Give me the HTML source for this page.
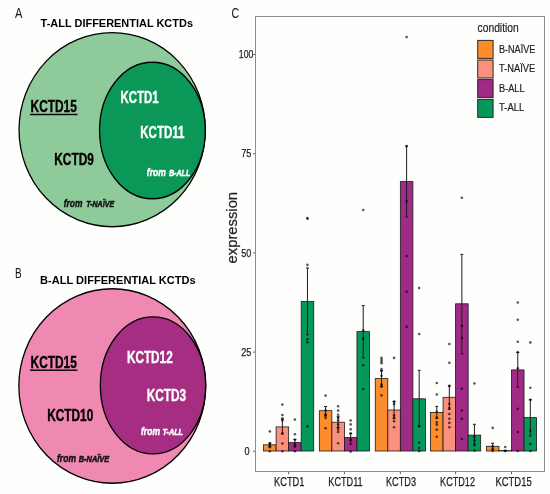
<!DOCTYPE html>
<html lang="en">
<head>
<meta charset="utf-8">
<title>KCTD differential expression figure</title>
<style>
html,body{margin:0;padding:0;background:#fefefd;}
body{width:550px;height:494px;overflow:hidden;}
svg{display:block;font-family:"Liberation Sans", Arial, sans-serif;}
</style>
</head>
<body>
<svg width="550" height="494" viewBox="0 0 550 494">
<rect x="0" y="0" width="550" height="494" fill="#fefefd"/>
<text x="15" y="17.6" font-size="14.0" font-weight="normal" font-style="normal" fill="#111" text-anchor="start" textLength="7.4" lengthAdjust="spacingAndGlyphs">A</text>
<text x="40.6" y="27" font-size="10.5" font-weight="bold" font-style="normal" fill="#000" text-anchor="start" textLength="152.4" lengthAdjust="spacingAndGlyphs">T-ALL DIFFERENTIAL KCTDs</text>
<ellipse cx="112.2" cy="129.7" rx="93.15" ry="97.05" fill="#8eca9a" stroke="#000" stroke-width="1.3"/>
<ellipse cx="152.4" cy="130.5" rx="52.85" ry="68.25" fill="#0a9757" stroke="#000" stroke-width="1.3"/>
<text x="30.6" y="112.2" font-size="16.3" font-weight="bold" font-style="normal" fill="#000" text-anchor="start" textLength="46.2" lengthAdjust="spacingAndGlyphs" stroke="#000" stroke-width="0.4">KCTD15</text>
<rect x="30" y="113.8" width="47.5" height="1.4" fill="#000"/>
<text x="54.3" y="165.1" font-size="16.3" font-weight="bold" font-style="normal" fill="#000" text-anchor="start" textLength="39.5" lengthAdjust="spacingAndGlyphs" stroke="#000" stroke-width="0.4">KCTD9</text>
<text x="120.6" y="102.9" font-size="16.3" font-weight="bold" font-style="normal" fill="#fff" text-anchor="start" textLength="38.0" lengthAdjust="spacingAndGlyphs" stroke="#fff" stroke-width="0.4">KCTD1</text>
<text x="140.3" y="137.6" font-size="16.3" font-weight="bold" font-style="normal" fill="#fff" text-anchor="start" textLength="44.2" lengthAdjust="spacingAndGlyphs" stroke="#fff" stroke-width="0.4">KCTD11</text>
<text x="146.8" y="175.7" font-size="10.2" font-weight="bold" font-style="italic" fill="#fff" text-anchor="start" textLength="19.2" lengthAdjust="spacingAndGlyphs" stroke="#fff" stroke-width="0.4">from</text>
<text x="168.9" y="175.7" font-size="9.4" font-weight="bold" font-style="italic" fill="#fff" text-anchor="start" textLength="21.4" lengthAdjust="spacingAndGlyphs" stroke="#fff" stroke-width="0.5">B-ALL</text>
<text x="63.7" y="207.4" font-size="10.2" font-weight="bold" font-style="italic" fill="#111" text-anchor="start" textLength="18.7" lengthAdjust="spacingAndGlyphs" stroke="#111" stroke-width="0.4">from</text>
<text x="86.2" y="207.4" font-size="9.4" font-weight="bold" font-style="italic" fill="#111" text-anchor="start" textLength="28.0" lengthAdjust="spacingAndGlyphs" stroke="#111" stroke-width="0.5">T-NAÏVE</text>
<text x="15.1" y="278" font-size="13.8" font-weight="normal" font-style="normal" fill="#111" text-anchor="start" textLength="6.7" lengthAdjust="spacingAndGlyphs">B</text>
<text x="40.1" y="284.1" font-size="10.5" font-weight="bold" font-style="normal" fill="#000" text-anchor="start" textLength="155.6" lengthAdjust="spacingAndGlyphs">B-ALL DIFFERENTIAL KCTDs</text>
<ellipse cx="112.3" cy="386" rx="93.45" ry="97.25" fill="#f089b2" stroke="#000" stroke-width="1.3"/>
<ellipse cx="153.0" cy="385.4" rx="52.65" ry="68.45" fill="#a52d82" stroke="#000" stroke-width="1.3"/>
<text x="30.6" y="368.3" font-size="16.3" font-weight="bold" font-style="normal" fill="#000" text-anchor="start" textLength="46.2" lengthAdjust="spacingAndGlyphs" stroke="#000" stroke-width="0.4">KCTD15</text>
<rect x="30" y="369.5" width="47.5" height="1.4" fill="#000"/>
<text x="47.3" y="420.6" font-size="16.3" font-weight="bold" font-style="normal" fill="#000" text-anchor="start" textLength="45.9" lengthAdjust="spacingAndGlyphs" stroke="#000" stroke-width="0.4">KCTD10</text>
<text x="126.9" y="362.5" font-size="16.3" font-weight="bold" font-style="normal" fill="#fff" text-anchor="start" textLength="45.8" lengthAdjust="spacingAndGlyphs" stroke="#fff" stroke-width="0.4">KCTD12</text>
<text x="146.8" y="400.6" font-size="16.3" font-weight="bold" font-style="normal" fill="#fff" text-anchor="start" textLength="39.4" lengthAdjust="spacingAndGlyphs" stroke="#fff" stroke-width="0.4">KCTD3</text>
<text x="141.0" y="434.7" font-size="10.2" font-weight="bold" font-style="italic" fill="#fff" text-anchor="start" textLength="19.0" lengthAdjust="spacingAndGlyphs" stroke="#fff" stroke-width="0.4">from</text>
<text x="162.4" y="434.7" font-size="9.4" font-weight="bold" font-style="italic" fill="#fff" text-anchor="start" textLength="20.7" lengthAdjust="spacingAndGlyphs" stroke="#fff" stroke-width="0.5">T-ALL</text>
<text x="57.0" y="461.8" font-size="10.2" font-weight="bold" font-style="italic" fill="#111" text-anchor="start" textLength="19.0" lengthAdjust="spacingAndGlyphs" stroke="#111" stroke-width="0.4">from</text>
<text x="78.7" y="461.8" font-size="9.4" font-weight="bold" font-style="italic" fill="#111" text-anchor="start" textLength="30.6" lengthAdjust="spacingAndGlyphs" stroke="#111" stroke-width="0.5">B-NAÏVE</text>
<text x="231.5" y="17.9" font-size="14.2" font-weight="normal" font-style="normal" fill="#111" text-anchor="start" textLength="7.7" lengthAdjust="spacingAndGlyphs">C</text>
<line x1="253.1" x2="255.5" y1="451.3" y2="451.3" stroke="#333" stroke-width="0.8"/>
<text x="244.55" y="454.9" font-size="11.7" font-weight="normal" font-style="normal" fill="#222" text-anchor="start" textLength="5.1" lengthAdjust="spacingAndGlyphs" stroke="#222" stroke-width="0.25">0</text>
<line x1="253.1" x2="255.5" y1="352.1" y2="352.1" stroke="#333" stroke-width="0.8"/>
<text x="241.2" y="355.7" font-size="11.7" font-weight="normal" font-style="normal" fill="#222" text-anchor="start" textLength="10.2" lengthAdjust="spacingAndGlyphs" stroke="#222" stroke-width="0.25">25</text>
<line x1="253.1" x2="255.5" y1="252.9" y2="252.9" stroke="#333" stroke-width="0.8"/>
<text x="241.2" y="256.5" font-size="11.7" font-weight="normal" font-style="normal" fill="#222" text-anchor="start" textLength="10.2" lengthAdjust="spacingAndGlyphs" stroke="#222" stroke-width="0.25">50</text>
<line x1="253.1" x2="255.5" y1="153.8" y2="153.8" stroke="#333" stroke-width="0.8"/>
<text x="241.2" y="157.4" font-size="11.7" font-weight="normal" font-style="normal" fill="#222" text-anchor="start" textLength="10.2" lengthAdjust="spacingAndGlyphs" stroke="#222" stroke-width="0.25">75</text>
<line x1="253.1" x2="255.5" y1="54.6" y2="54.6" stroke="#333" stroke-width="0.8"/>
<text x="238.8" y="58.2" font-size="11.7" font-weight="normal" font-style="normal" fill="#222" text-anchor="start" textLength="14.6" lengthAdjust="spacingAndGlyphs" stroke="#222" stroke-width="0.25">100</text>
<line x1="288.65" x2="288.65" y1="471.5" y2="474.2" stroke="#333" stroke-width="0.8"/>
<text x="274.0" y="486.4" font-size="12.0" font-weight="normal" font-style="normal" fill="#222" text-anchor="start" textLength="30.5" lengthAdjust="spacingAndGlyphs" stroke="#222" stroke-width="0.25">KCTD1</text>
<line x1="344.4" x2="344.4" y1="471.5" y2="474.2" stroke="#333" stroke-width="0.8"/>
<text x="328.3" y="486.4" font-size="12.0" font-weight="normal" font-style="normal" fill="#222" text-anchor="start" textLength="34.3" lengthAdjust="spacingAndGlyphs" stroke="#222" stroke-width="0.25">KCTD11</text>
<line x1="400.35" x2="400.35" y1="471.5" y2="474.2" stroke="#333" stroke-width="0.8"/>
<text x="385.9" y="486.4" font-size="12.0" font-weight="normal" font-style="normal" fill="#222" text-anchor="start" textLength="30.1" lengthAdjust="spacingAndGlyphs" stroke="#222" stroke-width="0.25">KCTD3</text>
<line x1="455.6" x2="455.6" y1="471.5" y2="474.2" stroke="#333" stroke-width="0.8"/>
<text x="440.1" y="486.4" font-size="12.0" font-weight="normal" font-style="normal" fill="#222" text-anchor="start" textLength="34.9" lengthAdjust="spacingAndGlyphs" stroke="#222" stroke-width="0.25">KCTD12</text>
<line x1="511.5" x2="511.5" y1="471.5" y2="474.2" stroke="#333" stroke-width="0.8"/>
<text x="495.4" y="486.4" font-size="12.0" font-weight="normal" font-style="normal" fill="#222" text-anchor="start" textLength="36.3" lengthAdjust="spacingAndGlyphs" stroke="#222" stroke-width="0.25">KCTD15</text>
<text transform="translate(236.6,263.4) rotate(-90)" x="0" y="0" font-size="14.5" fill="#222" stroke="#222" stroke-width="0.25" textLength="71.5" lengthAdjust="spacingAndGlyphs">expression</text>
<rect x="263.57" y="444.8" width="12.54" height="6.20" fill="#fd8d2c" stroke="#1a1a1a" stroke-width="0.8"/>
<rect x="276.11" y="426.9" width="12.54" height="24.10" fill="#fb907c" stroke="#1a1a1a" stroke-width="0.8"/>
<rect x="288.65" y="442.6" width="12.54" height="8.40" fill="#a02b86" stroke="#1a1a1a" stroke-width="0.8"/>
<rect x="301.19" y="301.5" width="12.54" height="149.50" fill="#06985b" stroke="#1a1a1a" stroke-width="0.8"/>
<path d="M268.34 442.9H271.34M269.84 442.9V446.7M268.34 446.7H271.34" stroke="#1c1c1c" stroke-width="1" fill="none"/>
<circle cx="269.84" cy="431.4" r="1.3" fill="#000" fill-opacity="0.66"/>
<circle cx="269.84" cy="443.5" r="1.3" fill="#000" fill-opacity="0.66"/>
<circle cx="269.84" cy="445.4" r="1.3" fill="#000" fill-opacity="0.66"/>
<circle cx="269.84" cy="447.3" r="1.3" fill="#000" fill-opacity="0.66"/>
<circle cx="269.84" cy="451.2" r="1.3" fill="#000" fill-opacity="0.66"/>
<path d="M280.88 419.3H283.88M282.38 419.3V434.0M280.88 434.0H283.88" stroke="#1c1c1c" stroke-width="1" fill="none"/>
<circle cx="282.38" cy="404.6" r="1.3" fill="#000" fill-opacity="0.66"/>
<circle cx="282.38" cy="415.0" r="1.3" fill="#000" fill-opacity="0.66"/>
<circle cx="282.38" cy="418.4" r="1.3" fill="#000" fill-opacity="0.66"/>
<circle cx="282.38" cy="420.5" r="1.3" fill="#000" fill-opacity="0.66"/>
<circle cx="282.38" cy="433.3" r="1.3" fill="#000" fill-opacity="0.66"/>
<circle cx="282.38" cy="443.5" r="1.3" fill="#000" fill-opacity="0.66"/>
<circle cx="282.38" cy="451.2" r="1.3" fill="#000" fill-opacity="0.66"/>
<path d="M293.42 439.4H296.42M294.92 439.4V446.0M293.42 446.0H296.42" stroke="#1c1c1c" stroke-width="1" fill="none"/>
<circle cx="294.92" cy="419.6" r="1.3" fill="#000" fill-opacity="0.66"/>
<circle cx="294.92" cy="434.3" r="1.3" fill="#000" fill-opacity="0.66"/>
<circle cx="294.92" cy="439.7" r="1.3" fill="#000" fill-opacity="0.66"/>
<circle cx="294.92" cy="444.2" r="1.3" fill="#000" fill-opacity="0.66"/>
<circle cx="294.92" cy="446.7" r="1.3" fill="#000" fill-opacity="0.66"/>
<circle cx="294.92" cy="451.2" r="1.3" fill="#000" fill-opacity="0.66"/>
<path d="M305.96 268.0H308.96M307.46 268.0V334.8M305.96 334.8H308.96" stroke="#1c1c1c" stroke-width="1" fill="none"/>
<circle cx="307.46" cy="218.0" r="1.3" fill="#000" fill-opacity="0.66"/>
<circle cx="307.46" cy="218.7" r="1.3" fill="#000" fill-opacity="0.66"/>
<circle cx="307.46" cy="264.9" r="1.3" fill="#000" fill-opacity="0.66"/>
<circle cx="307.46" cy="339.2" r="1.3" fill="#000" fill-opacity="0.66"/>
<circle cx="307.46" cy="342.2" r="1.3" fill="#000" fill-opacity="0.66"/>
<circle cx="307.46" cy="426.4" r="1.3" fill="#000" fill-opacity="0.66"/>
<rect x="319.32" y="410.7" width="12.54" height="40.30" fill="#fd8d2c" stroke="#1a1a1a" stroke-width="0.8"/>
<rect x="331.86" y="422.2" width="12.54" height="28.80" fill="#fb907c" stroke="#1a1a1a" stroke-width="0.8"/>
<rect x="344.40" y="437.5" width="12.54" height="13.50" fill="#a02b86" stroke="#1a1a1a" stroke-width="0.8"/>
<rect x="356.94" y="331.6" width="12.54" height="119.40" fill="#06985b" stroke="#1a1a1a" stroke-width="0.8"/>
<path d="M324.09 406.5H327.09M325.59 406.5V415.2M324.09 415.2H327.09" stroke="#1c1c1c" stroke-width="1" fill="none"/>
<circle cx="325.59" cy="395.6" r="1.3" fill="#000" fill-opacity="0.66"/>
<circle cx="325.59" cy="410.3" r="1.3" fill="#000" fill-opacity="0.66"/>
<circle cx="325.59" cy="414.2" r="1.3" fill="#000" fill-opacity="0.66"/>
<circle cx="325.59" cy="416.1" r="1.3" fill="#000" fill-opacity="0.66"/>
<circle cx="325.59" cy="418.0" r="1.3" fill="#000" fill-opacity="0.66"/>
<circle cx="325.59" cy="428.2" r="1.3" fill="#000" fill-opacity="0.66"/>
<path d="M336.63 416.7H339.63M338.13 416.7V427.6M336.63 427.6H339.63" stroke="#1c1c1c" stroke-width="1" fill="none"/>
<circle cx="338.13" cy="406.2" r="1.3" fill="#000" fill-opacity="0.66"/>
<circle cx="338.13" cy="410.6" r="1.3" fill="#000" fill-opacity="0.66"/>
<circle cx="338.13" cy="414.8" r="1.3" fill="#000" fill-opacity="0.66"/>
<circle cx="338.13" cy="418.0" r="1.3" fill="#000" fill-opacity="0.66"/>
<circle cx="338.13" cy="420.5" r="1.3" fill="#000" fill-opacity="0.66"/>
<circle cx="338.13" cy="424.4" r="1.3" fill="#000" fill-opacity="0.66"/>
<circle cx="338.13" cy="427.6" r="1.3" fill="#000" fill-opacity="0.66"/>
<circle cx="338.13" cy="429.5" r="1.3" fill="#000" fill-opacity="0.66"/>
<circle cx="338.13" cy="432.0" r="1.3" fill="#000" fill-opacity="0.66"/>
<circle cx="338.13" cy="443.3" r="1.3" fill="#000" fill-opacity="0.66"/>
<path d="M349.17 433.7H352.17M350.67 433.7V441.2M349.17 441.2H352.17" stroke="#1c1c1c" stroke-width="1" fill="none"/>
<circle cx="350.67" cy="420.5" r="1.3" fill="#000" fill-opacity="0.66"/>
<circle cx="350.67" cy="424.4" r="1.3" fill="#000" fill-opacity="0.66"/>
<circle cx="350.67" cy="429.2" r="1.3" fill="#000" fill-opacity="0.66"/>
<circle cx="350.67" cy="433.3" r="1.3" fill="#000" fill-opacity="0.66"/>
<circle cx="350.67" cy="439.7" r="1.3" fill="#000" fill-opacity="0.66"/>
<circle cx="350.67" cy="443.9" r="1.3" fill="#000" fill-opacity="0.66"/>
<circle cx="350.67" cy="451.6" r="1.3" fill="#000" fill-opacity="0.66"/>
<path d="M361.71 305.6H364.71M363.21 305.6V358.0M361.71 358.0H364.71" stroke="#1c1c1c" stroke-width="1" fill="none"/>
<circle cx="363.21" cy="210.0" r="1.3" fill="#000" fill-opacity="0.66"/>
<circle cx="363.21" cy="330.3" r="1.3" fill="#000" fill-opacity="0.66"/>
<circle cx="363.21" cy="338.8" r="1.3" fill="#000" fill-opacity="0.66"/>
<circle cx="363.21" cy="365.2" r="1.3" fill="#000" fill-opacity="0.66"/>
<circle cx="363.21" cy="389.0" r="1.3" fill="#000" fill-opacity="0.66"/>
<rect x="375.27" y="378.6" width="12.54" height="72.40" fill="#fd8d2c" stroke="#1a1a1a" stroke-width="0.8"/>
<rect x="387.81" y="410.0" width="12.54" height="41.00" fill="#fb907c" stroke="#1a1a1a" stroke-width="0.8"/>
<rect x="400.35" y="181.6" width="12.54" height="269.40" fill="#a02b86" stroke="#1a1a1a" stroke-width="0.8"/>
<rect x="412.89" y="398.8" width="12.54" height="52.20" fill="#06985b" stroke="#1a1a1a" stroke-width="0.8"/>
<path d="M380.04 370.6H383.04M381.54 370.6V386.6M380.04 386.6H383.04" stroke="#1c1c1c" stroke-width="1" fill="none"/>
<circle cx="381.54" cy="357.9" r="1.3" fill="#000" fill-opacity="0.66"/>
<circle cx="381.54" cy="359.8" r="1.3" fill="#000" fill-opacity="0.66"/>
<circle cx="381.54" cy="361.5" r="1.3" fill="#000" fill-opacity="0.66"/>
<circle cx="381.54" cy="363.2" r="1.3" fill="#000" fill-opacity="0.66"/>
<circle cx="381.54" cy="369.1" r="1.3" fill="#000" fill-opacity="0.66"/>
<circle cx="381.54" cy="371.0" r="1.3" fill="#000" fill-opacity="0.66"/>
<circle cx="381.54" cy="375.8" r="1.3" fill="#000" fill-opacity="0.66"/>
<circle cx="381.54" cy="384.2" r="1.3" fill="#000" fill-opacity="0.66"/>
<circle cx="381.54" cy="386.6" r="1.3" fill="#000" fill-opacity="0.66"/>
<circle cx="381.54" cy="395.4" r="1.3" fill="#000" fill-opacity="0.66"/>
<path d="M392.58 401.6H395.58M394.08 401.6V418.8M392.58 418.8H395.58" stroke="#1c1c1c" stroke-width="1" fill="none"/>
<circle cx="394.08" cy="357.9" r="1.3" fill="#000" fill-opacity="0.66"/>
<circle cx="394.08" cy="401.6" r="1.3" fill="#000" fill-opacity="0.66"/>
<circle cx="394.08" cy="404.0" r="1.3" fill="#000" fill-opacity="0.66"/>
<circle cx="394.08" cy="415.3" r="1.3" fill="#000" fill-opacity="0.66"/>
<circle cx="394.08" cy="417.6" r="1.3" fill="#000" fill-opacity="0.66"/>
<circle cx="394.08" cy="421.2" r="1.3" fill="#000" fill-opacity="0.66"/>
<circle cx="394.08" cy="427.2" r="1.3" fill="#000" fill-opacity="0.66"/>
<path d="M405.12 146.2H408.12M406.62 146.2V217.0M405.12 217.0H408.12" stroke="#1c1c1c" stroke-width="1" fill="none"/>
<circle cx="406.62" cy="37.1" r="1.3" fill="#000" fill-opacity="0.66"/>
<circle cx="406.62" cy="146.0" r="1.3" fill="#000" fill-opacity="0.66"/>
<circle cx="406.62" cy="201.3" r="1.3" fill="#000" fill-opacity="0.66"/>
<circle cx="406.62" cy="256.0" r="1.3" fill="#000" fill-opacity="0.66"/>
<circle cx="406.62" cy="291.7" r="1.3" fill="#000" fill-opacity="0.66"/>
<circle cx="406.62" cy="326.9" r="1.3" fill="#000" fill-opacity="0.66"/>
<path d="M417.66 370.3H420.66M419.16 370.3V426.5M417.66 426.5H420.66" stroke="#1c1c1c" stroke-width="1" fill="none"/>
<circle cx="419.16" cy="288.1" r="1.3" fill="#000" fill-opacity="0.66"/>
<circle cx="419.16" cy="334.0" r="1.3" fill="#000" fill-opacity="0.66"/>
<circle cx="419.16" cy="426.0" r="1.3" fill="#000" fill-opacity="0.66"/>
<circle cx="419.16" cy="442.7" r="1.3" fill="#000" fill-opacity="0.66"/>
<circle cx="419.16" cy="448.0" r="1.3" fill="#000" fill-opacity="0.66"/>
<circle cx="419.16" cy="451.0" r="1.3" fill="#000" fill-opacity="0.66"/>
<rect x="430.52" y="412.4" width="12.54" height="38.60" fill="#fd8d2c" stroke="#1a1a1a" stroke-width="0.8"/>
<rect x="443.06" y="397.3" width="12.54" height="53.70" fill="#fb907c" stroke="#1a1a1a" stroke-width="0.8"/>
<rect x="455.60" y="303.8" width="12.54" height="147.20" fill="#a02b86" stroke="#1a1a1a" stroke-width="0.8"/>
<rect x="468.14" y="435.1" width="12.54" height="15.90" fill="#06985b" stroke="#1a1a1a" stroke-width="0.8"/>
<path d="M435.29 406.4H438.29M436.79 406.4V418.4M435.29 418.4H438.29" stroke="#1c1c1c" stroke-width="1" fill="none"/>
<circle cx="436.79" cy="383.0" r="1.3" fill="#000" fill-opacity="0.66"/>
<circle cx="436.79" cy="394.5" r="1.3" fill="#000" fill-opacity="0.66"/>
<circle cx="436.79" cy="411.7" r="1.3" fill="#000" fill-opacity="0.66"/>
<circle cx="436.79" cy="417.6" r="1.3" fill="#000" fill-opacity="0.66"/>
<circle cx="436.79" cy="422.4" r="1.3" fill="#000" fill-opacity="0.66"/>
<circle cx="436.79" cy="424.8" r="1.3" fill="#000" fill-opacity="0.66"/>
<circle cx="436.79" cy="429.6" r="1.3" fill="#000" fill-opacity="0.66"/>
<circle cx="436.79" cy="436.8" r="1.3" fill="#000" fill-opacity="0.66"/>
<path d="M447.83 385.9H450.83M449.33 385.9V409.3M447.83 409.3H450.83" stroke="#1c1c1c" stroke-width="1" fill="none"/>
<circle cx="449.33" cy="344.0" r="1.3" fill="#000" fill-opacity="0.66"/>
<circle cx="449.33" cy="362.7" r="1.3" fill="#000" fill-opacity="0.66"/>
<circle cx="449.33" cy="385.9" r="1.3" fill="#000" fill-opacity="0.66"/>
<circle cx="449.33" cy="404.0" r="1.3" fill="#000" fill-opacity="0.66"/>
<circle cx="449.33" cy="408.0" r="1.3" fill="#000" fill-opacity="0.66"/>
<circle cx="449.33" cy="414.0" r="1.3" fill="#000" fill-opacity="0.66"/>
<circle cx="449.33" cy="418.8" r="1.3" fill="#000" fill-opacity="0.66"/>
<circle cx="449.33" cy="422.9" r="1.3" fill="#000" fill-opacity="0.66"/>
<circle cx="449.33" cy="427.2" r="1.3" fill="#000" fill-opacity="0.66"/>
<path d="M460.37 254.4H463.37M461.87 254.4V353.9M460.37 353.9H463.37" stroke="#1c1c1c" stroke-width="1" fill="none"/>
<circle cx="461.87" cy="197.8" r="1.3" fill="#000" fill-opacity="0.66"/>
<circle cx="461.87" cy="325.7" r="1.3" fill="#000" fill-opacity="0.66"/>
<circle cx="461.87" cy="338.1" r="1.3" fill="#000" fill-opacity="0.66"/>
<circle cx="461.87" cy="388.8" r="1.3" fill="#000" fill-opacity="0.66"/>
<circle cx="461.87" cy="410.5" r="1.3" fill="#000" fill-opacity="0.66"/>
<circle cx="461.87" cy="418.8" r="1.3" fill="#000" fill-opacity="0.66"/>
<circle cx="461.87" cy="439.1" r="1.3" fill="#000" fill-opacity="0.66"/>
<path d="M472.91 424.3H475.91M474.41 424.3V445.8M472.91 445.8H475.91" stroke="#1c1c1c" stroke-width="1" fill="none"/>
<circle cx="474.41" cy="383.5" r="1.3" fill="#000" fill-opacity="0.66"/>
<circle cx="474.41" cy="436.8" r="1.3" fill="#000" fill-opacity="0.66"/>
<circle cx="474.41" cy="440.3" r="1.3" fill="#000" fill-opacity="0.66"/>
<circle cx="474.41" cy="443.9" r="1.3" fill="#000" fill-opacity="0.66"/>
<circle cx="474.41" cy="450.4" r="1.3" fill="#000" fill-opacity="0.66"/>
<rect x="486.42" y="446.3" width="12.54" height="4.70" fill="#fd8d2c" stroke="#1a1a1a" stroke-width="0.8"/>
<rect x="498.96" y="450.6" width="12.54" height="0.40" fill="#fb907c" stroke="#1a1a1a" stroke-width="0.8"/>
<rect x="511.50" y="369.9" width="12.54" height="81.10" fill="#a02b86" stroke="#1a1a1a" stroke-width="0.8"/>
<rect x="524.04" y="417.6" width="12.54" height="33.40" fill="#06985b" stroke="#1a1a1a" stroke-width="0.8"/>
<path d="M491.19 443.2H494.19M492.69 443.2V449.4M491.19 449.4H494.19" stroke="#1c1c1c" stroke-width="1" fill="none"/>
<circle cx="492.69" cy="427.9" r="1.3" fill="#000" fill-opacity="0.66"/>
<circle cx="492.69" cy="446.3" r="1.3" fill="#000" fill-opacity="0.66"/>
<circle cx="492.69" cy="448.7" r="1.3" fill="#000" fill-opacity="0.66"/>
<circle cx="492.69" cy="451.0" r="1.3" fill="#000" fill-opacity="0.66"/>
<path d="M503.73 450.2H506.73M505.23 450.2V451.0M503.73 451.0H506.73" stroke="#1c1c1c" stroke-width="1" fill="none"/>
<circle cx="505.23" cy="447.0" r="1.3" fill="#000" fill-opacity="0.66"/>
<circle cx="505.23" cy="451.0" r="1.3" fill="#000" fill-opacity="0.66"/>
<path d="M516.27 352.5H519.27M517.77 352.5V387.3M516.27 387.3H519.27" stroke="#1c1c1c" stroke-width="1" fill="none"/>
<circle cx="517.77" cy="302.5" r="1.3" fill="#000" fill-opacity="0.66"/>
<circle cx="517.77" cy="319.7" r="1.3" fill="#000" fill-opacity="0.66"/>
<circle cx="517.77" cy="341.8" r="1.3" fill="#000" fill-opacity="0.66"/>
<circle cx="517.77" cy="352.0" r="1.3" fill="#000" fill-opacity="0.66"/>
<circle cx="517.77" cy="368.2" r="1.3" fill="#000" fill-opacity="0.66"/>
<circle cx="517.77" cy="408.8" r="1.3" fill="#000" fill-opacity="0.66"/>
<circle cx="517.77" cy="432.0" r="1.3" fill="#000" fill-opacity="0.66"/>
<circle cx="517.77" cy="451.0" r="1.3" fill="#000" fill-opacity="0.66"/>
<path d="M528.81 399.7H531.81M530.31 399.7V436.0M528.81 436.0H531.81" stroke="#1c1c1c" stroke-width="1" fill="none"/>
<circle cx="530.31" cy="342.4" r="1.3" fill="#000" fill-opacity="0.66"/>
<circle cx="530.31" cy="387.8" r="1.3" fill="#000" fill-opacity="0.66"/>
<circle cx="530.31" cy="399.7" r="1.3" fill="#000" fill-opacity="0.66"/>
<circle cx="530.31" cy="430.8" r="1.3" fill="#000" fill-opacity="0.66"/>
<circle cx="530.31" cy="443.9" r="1.3" fill="#000" fill-opacity="0.66"/>
<circle cx="530.31" cy="451.0" r="1.3" fill="#000" fill-opacity="0.66"/>
<rect x="255.5" y="16.5" width="289.0" height="455.0" fill="none" stroke="#8c8c8c" stroke-width="1"/>
<text x="477.6" y="31.6" font-size="12.8" font-weight="normal" font-style="normal" fill="#222" text-anchor="start" textLength="41.1" lengthAdjust="spacingAndGlyphs" stroke="#222" stroke-width="0.2">condition</text>
<rect x="477.7" y="40.4" width="15.4" height="18.0" fill="#fd8d2c" stroke="#2a2a2a" stroke-width="1"/>
<text x="499.0" y="52.8" font-size="11.2" font-weight="normal" font-style="normal" fill="#222" text-anchor="start" textLength="36.3" lengthAdjust="spacingAndGlyphs" stroke="#222" stroke-width="0.2">B-NAÏVE</text>
<rect x="477.7" y="60.0" width="15.4" height="18.0" fill="#fb907c" stroke="#2a2a2a" stroke-width="1"/>
<text x="499.0" y="72.4" font-size="11.2" font-weight="normal" font-style="normal" fill="#222" text-anchor="start" textLength="36.2" lengthAdjust="spacingAndGlyphs" stroke="#222" stroke-width="0.2">T-NAÏVE</text>
<rect x="477.7" y="79.6" width="15.4" height="18.0" fill="#a02b86" stroke="#2a2a2a" stroke-width="1"/>
<text x="499.0" y="91.9" font-size="11.2" font-weight="normal" font-style="normal" fill="#222" text-anchor="start" textLength="25.6" lengthAdjust="spacingAndGlyphs" stroke="#222" stroke-width="0.2">B-ALL</text>
<rect x="477.7" y="99.4" width="15.4" height="18.0" fill="#06985b" stroke="#2a2a2a" stroke-width="1"/>
<text x="499.0" y="111.4" font-size="11.2" font-weight="normal" font-style="normal" fill="#222" text-anchor="start" textLength="25.4" lengthAdjust="spacingAndGlyphs" stroke="#222" stroke-width="0.2">T-ALL</text>
</svg>
</body>
</html>
